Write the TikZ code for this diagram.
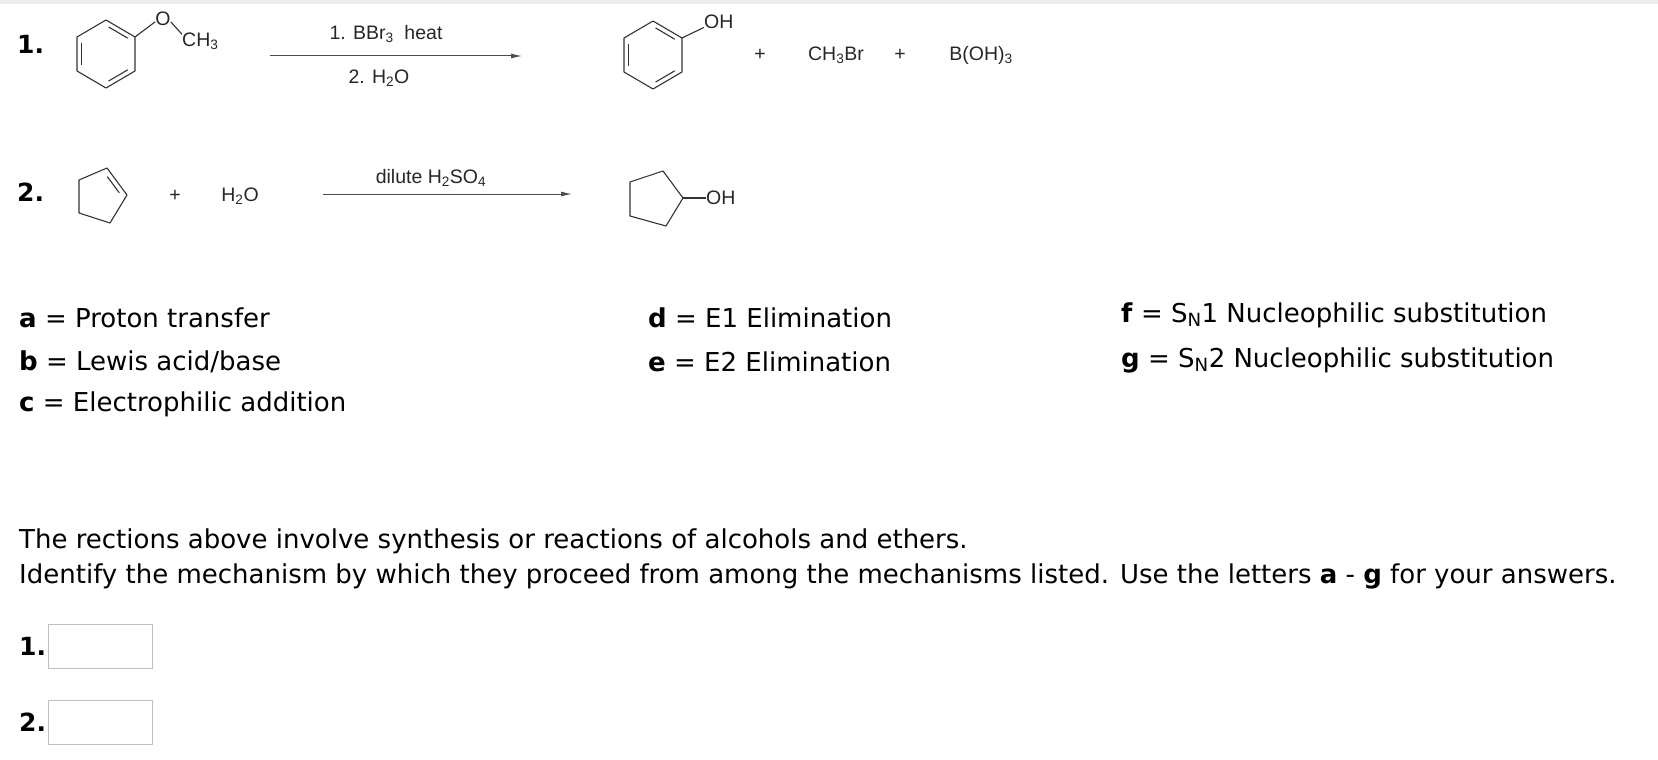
\documentclass[tikz,border=0pt]{standalone}
\usepackage{fontspec}
\setmainfont{DejaVu Sans}
\newfontfamily\chem{Liberation Sans}
\usetikzlibrary{calc,arrows.meta}
\begin{document}
\begin{tikzpicture}[x=1pt,y=-1pt,
  bond/.style={line width=1.1pt,line join=round,color=black!80},
  ib/.style={line width=1.1pt,color=black!80,shorten <=3pt,shorten >=3pt},
  ch/.style={font=\chem\fontsize{19.5}{20}\selectfont,inner sep=0pt,text=black!85},
  tx/.style={font=\fontsize{26}{30}\selectfont,inner sep=0pt,anchor=west},
  num/.style={font=\bfseries\fontsize{25}{30}\selectfont,inner sep=0pt,anchor=west},
  rarrow/.style={line width=1pt,color=black!70,-{Latex[length=11pt,width=5pt]}},
  ansbox/.style={draw=black!25,line width=0.8pt,fill=white}]
\useasboundingbox (0,0) rectangle (1658,760);
\fill[black!7] (0,0) rectangle (1658,4);
% labels
\node[num] (n1) at (17,44) {1.};
\node[num] (n2) at (17,192) {2.};
% anisole
\coordinate (aC) at (106,54);
\coordinate (aT) at (106,20); \coordinate (aTR) at (135,37); \coordinate (aBR) at (135,71);
\coordinate (aB) at (106,88); \coordinate (aBL) at (77,71); \coordinate (aTL) at (77,37);
\draw[bond] (aT)--(aTR)--(aBR)--(aB)--(aBL)--(aTL)--cycle;
\draw[ib] ($(aC)!0.84!(aT)$)--($(aC)!0.84!(aTR)$);
\draw[ib] ($(aC)!0.84!(aTL)$)--($(aC)!0.84!(aBL)$);
\draw[ib] ($(aC)!0.84!(aB)$)--($(aC)!0.84!(aBR)$);
\node[ch] (aO) at (163,19) {O};
\node[ch,anchor=west] (aMe) at (182,41) {CH\textsubscript{3}};
\draw[bond] (aTR)--(aO.200);
\draw[bond] (aO.-20)--(aMe.160);
% arrow 1
\coordinate (r1s) at (270,56); \coordinate (r1e) at (522,56);
\draw[rarrow] (r1s)--(r1e);
\node[ch] (r1a) at (386,34) {1. BBr\textsubscript{3}\ \ heat};
\node[ch] (r1b) at (379,78) {2. H\textsubscript{2}O};
% phenol
\coordinate (pC) at (653,55);
\coordinate (pT) at (653,21); \coordinate (pTR) at (682,38); \coordinate (pBR) at (682,72);
\coordinate (pB) at (653,89); \coordinate (pBL) at (624,72); \coordinate (pTL) at (624,38);
\draw[bond] (pT)--(pTR)--(pBR)--(pB)--(pBL)--(pTL)--cycle;
\draw[ib] ($(pC)!0.84!(pT)$)--($(pC)!0.84!(pTR)$);
\draw[ib] ($(pC)!0.84!(pTL)$)--($(pC)!0.84!(pBL)$);
\draw[ib] ($(pC)!0.84!(pB)$)--($(pC)!0.84!(pBR)$);
\node[ch,anchor=west] (pOH) at (704,22) {OH};
\draw[bond] (pTR)--(pOH.200);
\node[ch] (pl1) at (760,55) {+};
\node[ch] (mebr) at (836,55) {CH\textsubscript{3}Br};
\node[ch] (pl2) at (900,55) {+};
\node[ch] (boh) at (981,55) {B(OH)\textsubscript{3}};
% cyclopentene
\coordinate (c1) at (79,180); \coordinate (c2) at (107,168); \coordinate (c3) at (127,195);
\coordinate (c4) at (110,223); \coordinate (c5) at (79,213); \coordinate (cC) at (100,196);
\draw[bond] (c1)--(c2)--(c3)--(c4)--(c5)--cycle;
\draw[ib] ($(cC)!0.78!(c2)$)--($(cC)!0.78!(c3)$);
\node[ch] (pl3) at (175,196) {+};
\node[ch] (w) at (240,196) {H\textsubscript{2}O};
% arrow 2
\coordinate (r2s) at (323,194); \coordinate (r2e) at (572,194);
\draw[rarrow] (r2s)--(r2e);
\node[ch] (r2a) at (431,178) {dilute H\textsubscript{2}SO\textsubscript{4}};
% cyclopentanol
\coordinate (d1) at (630,182); \coordinate (d2) at (663,171); \coordinate (d3) at (683,198);
\coordinate (d4) at (666,226); \coordinate (d5) at (630,216);
\draw[bond] (d1)--(d2)--(d3)--(d4)--(d5)--cycle;
\node[ch,anchor=west] (dOH) at (706,198) {OH};
\draw[bond] (d3)--(dOH.west);
% mechanisms
\node[tx] (ma) at (19,318) {\textbf{a} = Proton transfer};
\node[tx] (mb) at (19,362) {\textbf{b} = Lewis acid/base};
\node[tx] (mc) at (19,404) {\textbf{c} = Electrophilic addition};
\node[tx] (md) at (648,318) {\textbf{d} = E1 Elimination};
\node[tx] (me) at (648,362) {\textbf{e} = E2 Elimination};
\node[tx] (mf) at (1121,315) {\textbf{f} = S\textsubscript{N}1 Nucleophilic substitution};
\node[tx] (mg) at (1121,360) {\textbf{g} = S\textsubscript{N}2 Nucleophilic substitution};
% paragraph
\node[tx] (q1) at (19,541) {The rections above involve synthesis or reactions of alcohols and ethers.};
\node[tx] (q2) at (19,576) {Identify the mechanism by which they proceed from among the mechanisms listed. Use the letters \textbf{a} - \textbf{g} for your answers.};
% answer boxes
\node[num] (l1) at (19,646) {1.};
\node[ansbox,minimum width=104pt,minimum height=44pt,anchor=north west] (b1) at (48,624) {};
\node[num] (l2) at (19,722) {2.};
\node[ansbox,minimum width=104pt,minimum height=44pt,anchor=north west] (b2) at (48,700) {};
\end{tikzpicture}
\end{document}
